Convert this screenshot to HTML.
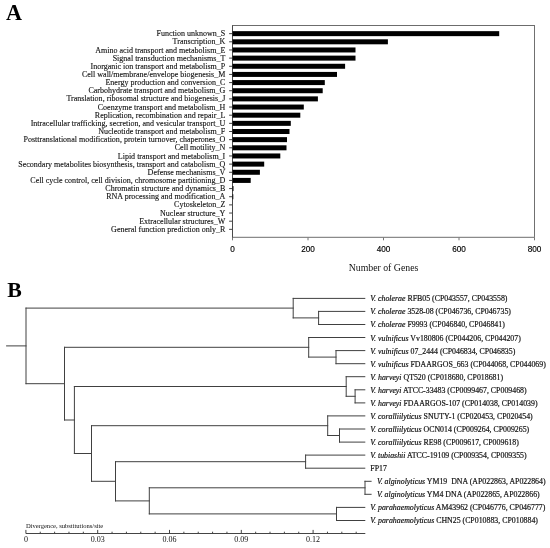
<!DOCTYPE html><html><head><meta charset="utf-8"><title>Figure</title>
<style>html,body{margin:0;padding:0;background:#fff}svg{display:block}.s{font-family:"Liberation Serif",serif}.a{font-family:"Liberation Sans",sans-serif}</style></head><body>
<svg width="550" height="548" viewBox="0 0 550 548">
<rect width="550" height="548" fill="#fff"/>
<text class="s" x="6.1" y="19.7" font-size="22.2" font-weight="bold" fill="#000">A</text>
<text class="s" x="7.3" y="297.4" font-size="21.8" font-weight="bold" fill="#000">B</text>
<line x1="232.0" y1="25.5" x2="535.0" y2="25.5" stroke="#6c6c6c" stroke-width="1"/>
<line x1="534.5" y1="25.5" x2="534.5" y2="237.5" stroke="#707070" stroke-width="1"/>
<line x1="232.0" y1="237.4" x2="535.0" y2="237.4" stroke="#8a8a8a" stroke-width="1.3"/>
<line x1="232.5" y1="25.5" x2="232.5" y2="238.0" stroke="#4a4a4a" stroke-width="1"/>
<line x1="232.5" y1="237.5" x2="232.5" y2="240.3" stroke="#757575" stroke-width="1"/>
<text class="a" x="232.5" y="251.9" font-size="8.2" text-anchor="middle" fill="#000" stroke="#000" stroke-width="0.15">0</text>
<line x1="308.0" y1="237.5" x2="308.0" y2="240.3" stroke="#757575" stroke-width="1"/>
<text class="a" x="308.0" y="251.9" font-size="8.2" text-anchor="middle" fill="#000" stroke="#000" stroke-width="0.15">200</text>
<line x1="383.5" y1="237.5" x2="383.5" y2="240.3" stroke="#757575" stroke-width="1"/>
<text class="a" x="383.5" y="251.9" font-size="8.2" text-anchor="middle" fill="#000" stroke="#000" stroke-width="0.15">400</text>
<line x1="459.0" y1="237.5" x2="459.0" y2="240.3" stroke="#757575" stroke-width="1"/>
<text class="a" x="459.0" y="251.9" font-size="8.2" text-anchor="middle" fill="#000" stroke="#000" stroke-width="0.15">600</text>
<line x1="534.5" y1="237.5" x2="534.5" y2="240.3" stroke="#757575" stroke-width="1"/>
<text class="a" x="534.5" y="251.9" font-size="8.2" text-anchor="middle" fill="#000" stroke="#000" stroke-width="0.15">800</text>
<line x1="229.1" y1="33.65" x2="232.5" y2="33.65" stroke="#444" stroke-width="1"/>
<rect x="232.5" y="31.15" width="266.7" height="5" fill="#000"/>
<text class="s" x="225.3" y="36.25" font-size="8.03" text-anchor="end" fill="#111" stroke="#111" stroke-width="0.12">Function unknown_S</text>
<line x1="229.1" y1="41.81" x2="232.5" y2="41.81" stroke="#444" stroke-width="1"/>
<rect x="232.5" y="39.31" width="155.4" height="5" fill="#000"/>
<text class="s" x="225.3" y="44.41" font-size="8.03" text-anchor="end" fill="#111" stroke="#111" stroke-width="0.12">Transcription_K</text>
<line x1="229.1" y1="49.96" x2="232.5" y2="49.96" stroke="#444" stroke-width="1"/>
<rect x="232.5" y="47.46" width="123.0" height="5" fill="#000"/>
<text class="s" x="225.3" y="52.56" font-size="8.03" text-anchor="end" fill="#111" stroke="#111" stroke-width="0.12">Amino acid transport and metabolism_E</text>
<line x1="229.1" y1="58.12" x2="232.5" y2="58.12" stroke="#444" stroke-width="1"/>
<rect x="232.5" y="55.62" width="123.0" height="5" fill="#000"/>
<text class="s" x="225.3" y="60.72" font-size="8.03" text-anchor="end" fill="#111" stroke="#111" stroke-width="0.12">Signal transduction mechanisms_T</text>
<line x1="229.1" y1="66.27" x2="232.5" y2="66.27" stroke="#444" stroke-width="1"/>
<rect x="232.5" y="63.77" width="112.6" height="5" fill="#000"/>
<text class="s" x="225.3" y="68.87" font-size="8.03" text-anchor="end" fill="#111" stroke="#111" stroke-width="0.12">Inorganic ion transport and metabolism_P</text>
<line x1="229.1" y1="74.42" x2="232.5" y2="74.42" stroke="#444" stroke-width="1"/>
<rect x="232.5" y="71.92" width="104.5" height="5" fill="#000"/>
<text class="s" x="225.3" y="77.02" font-size="8.03" text-anchor="end" fill="#111" stroke="#111" stroke-width="0.12">Cell wall/membrane/envelope biogenesis_M</text>
<line x1="229.1" y1="82.58" x2="232.5" y2="82.58" stroke="#444" stroke-width="1"/>
<rect x="232.5" y="80.08" width="92.3" height="5" fill="#000"/>
<text class="s" x="225.3" y="85.18" font-size="8.03" text-anchor="end" fill="#111" stroke="#111" stroke-width="0.12">Energy production and conversion_C</text>
<line x1="229.1" y1="90.73" x2="232.5" y2="90.73" stroke="#444" stroke-width="1"/>
<rect x="232.5" y="88.23" width="90.2" height="5" fill="#000"/>
<text class="s" x="225.3" y="93.33" font-size="8.03" text-anchor="end" fill="#111" stroke="#111" stroke-width="0.12">Carbohydrate transport and metabolism_G</text>
<line x1="229.1" y1="98.88" x2="232.5" y2="98.88" stroke="#444" stroke-width="1"/>
<rect x="232.5" y="96.38" width="85.4" height="5" fill="#000"/>
<text class="s" x="225.3" y="101.48" font-size="8.03" text-anchor="end" fill="#111" stroke="#111" stroke-width="0.12">Translation, ribosomal structure and biogenesis_J</text>
<line x1="229.1" y1="107.04" x2="232.5" y2="107.04" stroke="#444" stroke-width="1"/>
<rect x="232.5" y="104.54" width="71.3" height="5" fill="#000"/>
<text class="s" x="225.3" y="109.64" font-size="8.03" text-anchor="end" fill="#111" stroke="#111" stroke-width="0.12">Coenzyme transport and metabolism_H</text>
<line x1="229.1" y1="115.19" x2="232.5" y2="115.19" stroke="#444" stroke-width="1"/>
<rect x="232.5" y="112.69" width="67.8" height="5" fill="#000"/>
<text class="s" x="225.3" y="117.79" font-size="8.03" text-anchor="end" fill="#111" stroke="#111" stroke-width="0.12">Replication, recombination and repair_L</text>
<line x1="229.1" y1="123.35" x2="232.5" y2="123.35" stroke="#444" stroke-width="1"/>
<rect x="232.5" y="120.85" width="58.3" height="5" fill="#000"/>
<text class="s" x="225.3" y="125.95" font-size="8.03" text-anchor="end" fill="#111" stroke="#111" stroke-width="0.12">Intracellular trafficking, secretion, and vesicular transport_U</text>
<line x1="229.1" y1="131.50" x2="232.5" y2="131.50" stroke="#444" stroke-width="1"/>
<rect x="232.5" y="129.00" width="57.0" height="5" fill="#000"/>
<text class="s" x="225.3" y="134.10" font-size="8.03" text-anchor="end" fill="#111" stroke="#111" stroke-width="0.12">Nucleotide transport and metabolism_F</text>
<line x1="229.1" y1="139.65" x2="232.5" y2="139.65" stroke="#444" stroke-width="1"/>
<rect x="232.5" y="137.15" width="54.5" height="5" fill="#000"/>
<text class="s" x="225.3" y="142.25" font-size="8.03" text-anchor="end" fill="#111" stroke="#111" stroke-width="0.12">Posttranslational modification, protein turnover, chaperones_O</text>
<line x1="229.1" y1="147.81" x2="232.5" y2="147.81" stroke="#444" stroke-width="1"/>
<rect x="232.5" y="145.31" width="54.0" height="5" fill="#000"/>
<text class="s" x="225.3" y="150.41" font-size="8.03" text-anchor="end" fill="#111" stroke="#111" stroke-width="0.12">Cell motility_N</text>
<line x1="229.1" y1="155.96" x2="232.5" y2="155.96" stroke="#444" stroke-width="1"/>
<rect x="232.5" y="153.46" width="47.8" height="5" fill="#000"/>
<text class="s" x="225.3" y="158.56" font-size="8.03" text-anchor="end" fill="#111" stroke="#111" stroke-width="0.12">Lipid transport and metabolism_I</text>
<line x1="229.1" y1="164.12" x2="232.5" y2="164.12" stroke="#444" stroke-width="1"/>
<rect x="232.5" y="161.62" width="31.7" height="5" fill="#000"/>
<text class="s" x="225.3" y="166.72" font-size="8.03" text-anchor="end" fill="#111" stroke="#111" stroke-width="0.12">Secondary metabolites biosynthesis, transport and catabolism_Q</text>
<line x1="229.1" y1="172.27" x2="232.5" y2="172.27" stroke="#444" stroke-width="1"/>
<rect x="232.5" y="169.77" width="27.4" height="5" fill="#000"/>
<text class="s" x="225.3" y="174.87" font-size="8.03" text-anchor="end" fill="#111" stroke="#111" stroke-width="0.12">Defense mechanisms_V</text>
<line x1="229.1" y1="180.42" x2="232.5" y2="180.42" stroke="#444" stroke-width="1"/>
<rect x="232.5" y="177.92" width="18.2" height="5" fill="#000"/>
<text class="s" x="225.3" y="183.02" font-size="8.03" text-anchor="end" fill="#111" stroke="#111" stroke-width="0.12">Cell cycle control, cell division, chromosome partitioning_D</text>
<line x1="229.1" y1="188.58" x2="232.5" y2="188.58" stroke="#444" stroke-width="1"/>
<rect x="232.5" y="186.08" width="1.0" height="5" fill="#000"/>
<text class="s" x="225.3" y="191.18" font-size="8.03" text-anchor="end" fill="#111" stroke="#111" stroke-width="0.12">Chromatin structure and dynamics_B</text>
<line x1="229.1" y1="196.73" x2="232.5" y2="196.73" stroke="#444" stroke-width="1"/>
<rect x="232.5" y="194.23" width="0.8" height="5" fill="#000"/>
<text class="s" x="225.3" y="199.33" font-size="8.03" text-anchor="end" fill="#111" stroke="#111" stroke-width="0.12">RNA processing and modification_A</text>
<line x1="229.1" y1="204.88" x2="232.5" y2="204.88" stroke="#444" stroke-width="1"/>
<text class="s" x="225.3" y="207.48" font-size="8.03" text-anchor="end" fill="#111" stroke="#111" stroke-width="0.12">Cytoskeleton_Z</text>
<line x1="229.1" y1="213.04" x2="232.5" y2="213.04" stroke="#444" stroke-width="1"/>
<text class="s" x="225.3" y="215.64" font-size="8.03" text-anchor="end" fill="#111" stroke="#111" stroke-width="0.12">Nuclear structure_Y</text>
<line x1="229.1" y1="221.19" x2="232.5" y2="221.19" stroke="#444" stroke-width="1"/>
<text class="s" x="225.3" y="223.79" font-size="8.03" text-anchor="end" fill="#111" stroke="#111" stroke-width="0.12">Extracellular structures_W</text>
<line x1="229.1" y1="229.35" x2="232.5" y2="229.35" stroke="#444" stroke-width="1"/>
<text class="s" x="225.3" y="231.95" font-size="8.03" text-anchor="end" fill="#111" stroke="#111" stroke-width="0.12">General function prediction only_R</text>
<text class="s" x="383.5" y="271" font-size="9.8" text-anchor="middle" fill="#111">Number of Genes</text>
<path d="M318.6 310.9L318.6 325.0M318.1 311.4L365.3 311.4M318.1 324.5L365.3 324.5M293.2 297.9L293.2 318.4M292.7 298.4L365.3 298.4M292.7 317.9L319.1 317.9M336.0 350.1L336.0 364.2M335.5 350.6L365.3 350.6M335.5 363.7L365.3 363.7M308.7 337.0L308.7 357.6M308.2 337.5L365.3 337.5M308.2 357.1L336.5 357.1M355.1 389.3L355.1 403.4M354.6 389.8L365.3 389.8M354.6 402.9L365.3 402.9M346.2 376.2L346.2 396.8M345.7 376.7L365.3 376.7M345.7 396.3L355.6 396.3M339.5 428.5L339.5 442.6M339.0 429.0L365.3 429.0M339.0 442.1L365.3 442.1M327.7 415.4L327.7 436.0M327.2 415.9L365.3 415.9M327.2 435.5L340.0 435.5M305.6 454.6L305.6 468.7M305.1 455.1L365.3 455.1M305.1 468.2L365.3 468.2M365.0 480.8L365.0 494.8M364.5 481.3L371.6 481.3M364.5 494.3L371.6 494.3M336.5 506.9L336.5 521.0M336.0 507.4L365.3 507.4M336.0 520.5L365.3 520.5M149.3 487.3L149.3 514.4M148.8 487.8L365.5 487.8M148.8 513.9L337.0 513.9M115.5 461.2L115.5 501.4M115.0 461.7L306.1 461.7M115.0 500.9L149.8 500.9M91.5 425.2L91.5 481.8M91.0 425.7L328.2 425.7M91.0 481.3L116.0 481.3M74.4 386.0L74.4 454.0M73.9 386.5L346.7 386.5M73.9 453.5L92.0 453.5M64.5 346.8L64.5 420.5M64.0 347.3L309.2 347.3M64.0 420.0L74.9 420.0M26.0 307.6L26.0 384.2M25.5 308.1L293.7 308.1M25.5 383.7L65.0 383.7M6.1 345.9L26.5 345.9" fill="none" stroke="#404040" stroke-width="1"/>
<text class="s" x="370.3" y="301.3" font-size="7.85" fill="#111" stroke="#111" stroke-width="0.18" xml:space="preserve"><tspan font-style="italic">V. cholerae</tspan> RFB05 (CP043557, CP043558)</text>
<text class="s" x="370.3" y="314.4" font-size="7.85" fill="#111" stroke="#111" stroke-width="0.18" xml:space="preserve"><tspan font-style="italic">V. cholerae</tspan> 3528-08 (CP046736, CP046735)</text>
<text class="s" x="370.3" y="327.4" font-size="7.85" fill="#111" stroke="#111" stroke-width="0.18" xml:space="preserve"><tspan font-style="italic">V. cholerae</tspan> F9993 (CP046840, CP046841)</text>
<text class="s" x="370.3" y="340.5" font-size="7.85" fill="#111" stroke="#111" stroke-width="0.18" xml:space="preserve"><tspan font-style="italic">V. vulnificus</tspan> Vv180806 (CP044206, CP044207)</text>
<text class="s" x="370.3" y="353.6" font-size="7.85" fill="#111" stroke="#111" stroke-width="0.18" xml:space="preserve"><tspan font-style="italic">V. vulnificus</tspan> 07_2444 (CP046834, CP046835)</text>
<text class="s" x="370.3" y="366.6" font-size="7.85" fill="#111" stroke="#111" stroke-width="0.18" xml:space="preserve"><tspan font-style="italic">V. vulnificus</tspan> FDAARGOS_663 (CP044068, CP044069)</text>
<text class="s" x="370.3" y="379.7" font-size="7.85" fill="#111" stroke="#111" stroke-width="0.18" xml:space="preserve"><tspan font-style="italic">V. harveyi</tspan> QT520 (CP018680, CP018681)</text>
<text class="s" x="370.3" y="392.8" font-size="7.85" fill="#111" stroke="#111" stroke-width="0.18" xml:space="preserve"><tspan font-style="italic">V. harveyi</tspan> ATCC-33483 (CP0099467, CP009468)</text>
<text class="s" x="370.3" y="405.8" font-size="7.85" fill="#111" stroke="#111" stroke-width="0.18" xml:space="preserve"><tspan font-style="italic">V. harveyi</tspan> FDAARGOS-107 (CP014038, CP014039)</text>
<text class="s" x="370.3" y="418.9" font-size="7.85" fill="#111" stroke="#111" stroke-width="0.18" xml:space="preserve"><tspan font-style="italic">V. coralliilyticus</tspan> SNUTY-1 (CP020453, CP020454)</text>
<text class="s" x="370.3" y="431.9" font-size="7.85" fill="#111" stroke="#111" stroke-width="0.18" xml:space="preserve"><tspan font-style="italic">V. coralliilyticus</tspan> OCN014 (CP009264, CP009265)</text>
<text class="s" x="370.3" y="445.0" font-size="7.85" fill="#111" stroke="#111" stroke-width="0.18" xml:space="preserve"><tspan font-style="italic">V. coralliilyticus</tspan> RE98 (CP009617, CP009618)</text>
<text class="s" x="370.3" y="458.1" font-size="7.85" fill="#111" stroke="#111" stroke-width="0.18" xml:space="preserve"><tspan font-style="italic">V. tubiashii</tspan> ATCC-19109 (CP009354, CP009355)</text>
<text class="s" x="370.3" y="471.1" font-size="7.85" fill="#111" stroke="#111" stroke-width="0.18" xml:space="preserve">FP17</text>
<text class="s" x="376.9" y="484.2" font-size="7.85" fill="#111" stroke="#111" stroke-width="0.18" xml:space="preserve"><tspan font-style="italic">V. alginolyticus</tspan> YM19  DNA (AP022863, AP022864)</text>
<text class="s" x="376.9" y="497.3" font-size="7.85" fill="#111" stroke="#111" stroke-width="0.18" xml:space="preserve"><tspan font-style="italic">V. alginolyticus</tspan> YM4 DNA (AP022865, AP022866)</text>
<text class="s" x="370.3" y="510.3" font-size="7.85" fill="#111" stroke="#111" stroke-width="0.18" xml:space="preserve"><tspan font-style="italic">V. parahaemolyticus</tspan> AM43962 (CP046776, CP046777)</text>
<text class="s" x="370.3" y="523.4" font-size="7.85" fill="#111" stroke="#111" stroke-width="0.18" xml:space="preserve"><tspan font-style="italic">V. parahaemolyticus</tspan> CHN25 (CP010883, CP010884)</text>
<path d="M25.9 533.5L365.3 533.5M25.90 533.5L25.90 529.9M40.26 533.5L40.26 531.7M54.62 533.5L54.62 531.7M68.98 533.5L68.98 531.7M83.34 533.5L83.34 531.7M97.70 533.5L97.70 529.9M112.06 533.5L112.06 531.7M126.42 533.5L126.42 531.7M140.78 533.5L140.78 531.7M155.14 533.5L155.14 531.7M169.50 533.5L169.50 529.9M183.86 533.5L183.86 531.7M198.22 533.5L198.22 531.7M212.58 533.5L212.58 531.7M226.94 533.5L226.94 531.7M241.30 533.5L241.30 529.9M255.66 533.5L255.66 531.7M270.02 533.5L270.02 531.7M284.38 533.5L284.38 531.7M298.74 533.5L298.74 531.7M313.10 533.5L313.10 529.9M327.46 533.5L327.46 531.7M341.82 533.5L341.82 531.7M356.18 533.5L356.18 531.7" fill="none" stroke="#444" stroke-width="1"/>
<text class="s" x="25.9" y="542.4" font-size="8" text-anchor="middle" fill="#111">0</text>
<text class="s" x="97.7" y="542.4" font-size="8" text-anchor="middle" fill="#111">0.03</text>
<text class="s" x="169.5" y="542.4" font-size="8" text-anchor="middle" fill="#111">0.06</text>
<text class="s" x="241.3" y="542.4" font-size="8" text-anchor="middle" fill="#111">0.09</text>
<text class="s" x="313.1" y="542.4" font-size="8" text-anchor="middle" fill="#111">0.12</text>
<text class="s" x="25.9" y="527.5" font-size="6.56" fill="#111">Divergence, substitutions/site</text>
</svg></body></html>
